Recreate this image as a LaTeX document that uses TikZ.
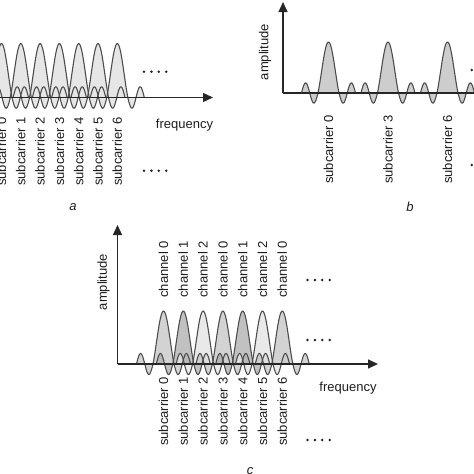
\documentclass[tikz,border=0pt]{standalone}
\usepackage{fontspec}
\setmainfont{Liberation Sans}
\usetikzlibrary{arrows.meta}
\definecolor{curvecol}{HTML}{4D4D4D}
\definecolor{axiscol}{HTML}{262626}
\definecolor{txtcol}{HTML}{1E1E1E}
\definecolor{fillA}{HTML}{E6E6E6}
\definecolor{fillB}{HTML}{CDCDCD}
\definecolor{chA}{HTML}{C8C8C8}
\definecolor{chB}{HTML}{B2B2B2}
\definecolor{chC}{HTML}{E4E4E4}
\begin{document}
\begin{tikzpicture}[x=1pt,y=-1pt,
  declare function={sl(\t)=(abs(\t)<10.5)*sin(180*\t/10.5)/(pi*\t/10.5)+(abs(\t)>=10.5)*(-0.2)*sin(180*(abs(\t)-10.5)/8.25);},
  curve/.style={draw=curvecol, line width=1.1pt, line join=round},
  axisline/.style={draw=axiscol, line width=1.3pt, -{Triangle[length=10pt,width=9pt]}},
  plainaxis/.style={draw=axiscol, line width=1.3pt},
  lbl/.style={font=\fontsize{13}{15}\selectfont, text=txtcol, inner sep=0pt, rotate=90, anchor=east},
  txt/.style={font=\fontsize{13}{15}\selectfont, text=txtcol, inner sep=0pt},
  captxt/.style={font=\fontsize{13}{15}\selectfont\itshape, text=txtcol, inner sep=0pt},
  dotc/.style={fill=axiscol}]
\useasboundingbox (0,0) rectangle (474,474);
\clip (0,0) rectangle (474,474);
\fill[white] (0,0) rectangle (474,474);

% ---------- panel a ----------
\foreach \k in {0,...,6}{
  \pgfmathsetmacro\cx{1.5+19.3*\k}
  \fill[fillA] plot[domain=-27:27,samples=54,smooth] ({\cx+\x},{97.5-54*sl(\x)}) -- cycle;
}
\foreach \k in {0,...,6}{
  \pgfmathsetmacro\cx{1.5+19.3*\k}
  \draw[curve] plot[domain=-27:27,samples=54,smooth] ({\cx+\x},{97.5-54*sl(\x)});
  \node[lbl] (sa\k) at (\cx,117) {subcarrier \k};
}
\coordinate (aO) at (-5,97.5);
\coordinate (aX) at (213,97.5);
\draw[axisline] (aO) -- (aX);
\node[txt] (afreq) at (184.5,125) {frequency};
\node[captxt] (acap) at (73,207) {a};
\foreach \d in {0,1,2,3}{
  \fill[dotc] (144+7.4*\d,71.7) circle (1.4);
  \fill[dotc] (144+7.4*\d,170.7) circle (1.4);
}

% ---------- panel b ----------
\foreach \cx in {328.5,388,447.5}{
  \fill[fillB] plot[domain=-27:27,samples=54,smooth] ({\cx+\x},{93-51*sl(\x)}) -- cycle;
  \draw[curve] plot[domain=-27:27,samples=54,smooth] ({\cx+\x},{93-51*sl(\x)});
}
\coordinate (bO) at (283,93);
\coordinate (bY) at (283,2);
\coordinate (bX) at (480,93);
\draw[plainaxis] (bO) -- (bX);
\draw[axisline] (bO) -- (bY);
\node[txt,rotate=90] (bamp) at (265,52) {amplitude};
\node[lbl] (sb0) at (328.5,115) {subcarrier 0};
\node[lbl] (sb3) at (388,115) {subcarrier 3};
\node[lbl] (sb6) at (447.5,115) {subcarrier 6};
\node[captxt] (bcap) at (410,207) {b};
\foreach \d in {0,1,2,3}{
  \fill[dotc] (471.7+7.4*\d,70) circle (1.4);
  \fill[dotc] (471.7+7.4*\d,165) circle (1.4);
}

% ---------- panel c ----------
\foreach \k/\col in {0/chA,1/chB,2/chC,3/chA,4/chB,5/chC,6/chA}{
  \pgfmathsetmacro\cx{163.5+19.8*\k}
  \fill[\col,fill opacity=0.8] plot[domain=-27:27,samples=54,smooth] ({\cx+\x},{364-53*sl(\x)}) -- cycle;
}
\foreach \k in {0,...,6}{
  \pgfmathsetmacro\cx{163.5+19.8*\k}
  \pgfmathtruncatemacro\ch{mod(\k,3)}
  \draw[curve] plot[domain=-27:27,samples=54,smooth] ({\cx+\x},{364-53*sl(\x)});
  \node[lbl] (sc\k) at (\cx,377) {subcarrier \k};
  \node[lbl] (ch\k) at (\cx,241) {channel \ch};
}
\coordinate (cO) at (117.5,364);
\coordinate (cY) at (117.5,225);
\coordinate (cX) at (378,364);
\draw[axisline] (cO) -- (cX);
\draw[axisline] (cO) -- (cY);
\node[txt,rotate=90] (camp) at (103.5,282) {amplitude};
\node[txt] (cfreq) at (348,388) {frequency};
\node[captxt] (ccap) at (250,471) {c};
\foreach \d in {0,1,2,3}{
  \fill[dotc] (307.5+7.4*\d,280) circle (1.4);
  \fill[dotc] (307.5+7.4*\d,340) circle (1.4);
  \fill[dotc] (307.5+7.4*\d,440) circle (1.4);
}
\end{tikzpicture}
\end{document}
